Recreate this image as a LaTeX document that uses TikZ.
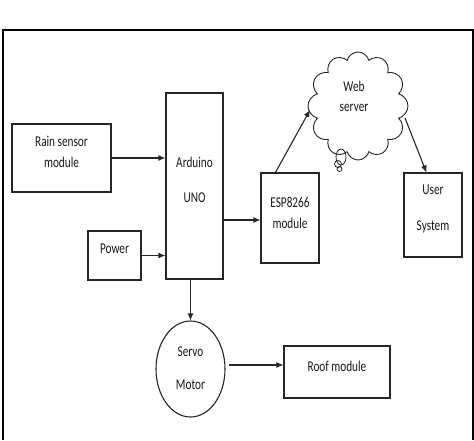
\documentclass[tikz,border=0pt]{standalone}
\usepackage{fontspec}
\setmainfont{Carlito}[FakeStretch=0.75]
\usetikzlibrary{shapes.symbols,shapes.geometric,arrows.meta,calc}
\begin{document}
\begin{tikzpicture}[x=1pt,y=-1pt,
  box/.style={draw=black!85,line width=1.1pt,rectangle,inner sep=0pt},
  lbl/.style={align=center,inner sep=0pt,text=black!90},
  arr/.style={draw=black!85,line width=1.1pt,-{Latex[length=7pt,width=6pt]}},
  thin/.style={draw=black!85,line width=0.8pt}]
\useasboundingbox (0,0) rectangle (474,440);
\fill[white] (0,0) rectangle (474,440);
\draw[line width=2pt] (2.5,440) -- (2.5,29.5) -- (472.5,29.5) -- (472.5,440);

% boxes
\node[box,minimum width=99pt,minimum height=68pt] (rain) at (61.5,158) {};
\node[box,minimum width=57pt,minimum height=186pt] (ard) at (194.5,186) {};
\node[box,minimum width=53pt,minimum height=49pt] (power) at (114.5,255.5) {};
\node[box,minimum width=58pt,minimum height=90pt] (esp) at (290,218) {};
\node[box,minimum width=58pt,minimum height=84pt] (user) at (433,215) {};
\node[box,minimum width=106pt,minimum height=52pt] (roof) at (337,372) {};
\node[box,ellipse,minimum width=69pt,minimum height=96pt] (servo) at (190.5,369) {};
\node[cloud,draw=black!85,line width=0.9pt,cloud puffs=12,cloud ignores aspect,
      minimum width=100pt,minimum height=108pt,inner sep=0pt] (cloud) at (358,106) {};

% thought bubbles
\draw[thin] (341,157) ellipse [x radius=5, y radius=8];
\draw[thin] (338,164) circle [radius=3.5];
\draw[thin] (339.5,169) circle [radius=2.5];

% labels
\node[lbl,font=\fontsize{15}{21}\selectfont] (raint) at (61.5,151.5) {Rain sensor\\module};
\node[lbl,font=\fontsize{15}{35}\selectfont] (ardt) at (194.5,179.5) {Arduino\\UNO};
\node[lbl,font=\fontsize{15}{18}\selectfont] (powert) at (114.5,249) {Power};
\node[lbl,font=\fontsize{15}{21}\selectfont] (espt) at (290,212.5) {ESP8266\\module};
\node[lbl,font=\fontsize{15}{36}\selectfont] (usert) at (433,209) {User\\System};
\node[lbl,font=\fontsize{15}{18}\selectfont] (rooft) at (337,366) {Roof module};
\node[lbl,font=\fontsize{15}{33}\selectfont] (servot) at (190.5,368.5) {Servo\\Motor};
\node[lbl,font=\fontsize{15}{20}\selectfont] (cloudt) at (354,96) {Web\\server};

% connectors
\draw[arr] (rain.east) -- (rain.east -| ard.west);
\draw[arr] (power.east) -- (power.east -| ard.west);
\coordinate (a1) at ($(ard.east)+(0,34)$);
\draw[arr] (a1) -- (a1 -| esp.west);
\draw[arr] (servo.north |- ard.south) -- (servo.north);
\coordinate (s1) at ($(servo.east)+(3,-4)$);
\draw[arr] (s1) -- (s1 -| roof.west);
\coordinate (e1) at ($(esp.north west)+(15,0)$);
\coordinate (c1) at ($(cloud.center)+(-48,4)$);
\draw[arr] (e1) -- (c1);
\coordinate (c2) at ($(cloud.center)+(47,12)$);
\coordinate (u1) at ($(user.north west)+(23,0)$);
\draw[arr] (c2) -- (u1);
\end{tikzpicture}
\end{document}
